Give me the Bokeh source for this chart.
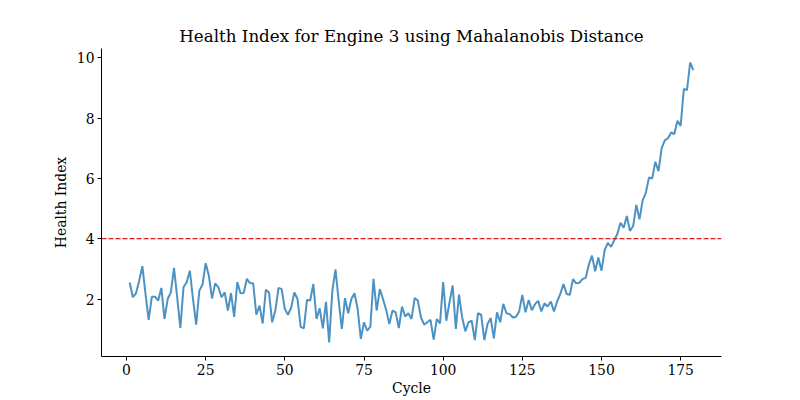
from bokeh.plotting import figure
from bokeh.models import Span, FixedTicker, Range1d
from bokeh.embed import file_html
from bokeh.resources import INLINE

# health index per cycle, engine 3
cycles = list(range(1, 180))
health_index = [
    2.55, 2.06, 2.19, 2.61, 3.09, 2.17, 1.31, 2.08, 2.08, 1.95,
    2.37, 1.34, 2.00, 2.22, 3.03, 2.06, 1.04, 2.39, 2.56, 2.94,
    2.00, 1.15, 2.28, 2.48, 3.19, 2.78, 2.02, 2.52, 2.39, 2.06,
    2.22, 1.62, 2.20, 1.41, 2.56, 2.19, 2.20, 2.67, 2.53, 2.52,
    1.48, 1.78, 1.19, 2.31, 2.22, 1.23, 1.62, 2.37, 2.33, 1.67,
    1.48, 1.72, 2.22, 2.00, 1.08, 1.03, 1.97, 1.95, 2.50, 1.34,
    1.69, 1.03, 1.91, 0.56, 2.28, 2.98, 1.95, 1.01, 2.03, 1.53,
    2.00, 2.19, 1.67, 0.68, 1.23, 0.95, 1.08, 2.67, 1.62, 2.33,
    2.00, 1.64, 1.17, 1.62, 1.56, 1.04, 1.75, 1.42, 1.53, 1.34,
    2.03, 1.95, 1.39, 1.15, 1.23, 1.31, 0.66, 1.34, 1.19, 2.56,
    1.28, 1.89, 2.45, 1.01, 2.15, 1.39, 0.93, 1.23, 1.28, 0.64,
    1.53, 1.48, 0.64, 1.17, 1.37, 0.70, 1.56, 1.23, 1.84, 1.53,
    1.50, 1.39, 1.41, 1.59, 2.14, 1.56, 1.97, 1.63, 1.83, 1.94,
    1.59, 1.86, 1.75, 1.92, 1.59, 1.92, 2.17, 2.50, 2.17, 2.14,
    2.66, 2.52, 2.54, 2.66, 2.70, 3.14, 3.44, 2.92, 3.38, 2.94,
    3.62, 3.86, 3.73, 3.94, 4.16, 4.53, 4.36, 4.75, 4.26, 4.42,
    5.12, 4.64, 5.27, 5.52, 6.03, 5.99, 6.55, 6.24, 7.00, 7.26,
    7.33, 7.52, 7.47, 7.91, 7.74, 8.96, 8.93, 9.84, 9.59,
]
threshold = 4
x_ticks = [0, 25, 50, 75, 100, 125, 150, 175]
y_ticks = [2, 4, 6, 8, 10]

FONT = "DejaVu Serif"

# matplotlib-like 5% margins around the data
xpad = (max(cycles) - min(cycles)) * 0.05
ypad = (max(health_index) - min(health_index)) * 0.05

p = figure(width=800, height=400, output_backend="svg", toolbar_location=None,
           title="Health Index for Engine 3 using Mahalanobis Distance",
           x_range=Range1d(min(cycles) - xpad, max(cycles) + xpad),
           y_range=Range1d(min(health_index) - ypad, max(health_index) + ypad),
           x_axis_label="Cycle", y_axis_label="Health Index",
           min_border_left=101, min_border_right=79,
           min_border_top=48, min_border_bottom=44)

p.line(cycles, health_index, line_color="#1f77b4", line_alpha=0.8, line_width=2)

p.add_layout(Span(location=threshold, dimension="width", line_color="#dd1c1c",
                  line_width=1.3, line_dash="5 2"))

p.title.text_font = FONT
p.title.text_font_size = "16.7px"
p.title.text_font_style = "normal"
p.title.text_color = "black"
p.title.align = "center"
p.title.standoff = 5

p.outline_line_color = None
p.grid.visible = False

p.xaxis.ticker = FixedTicker(ticks=x_ticks)
p.yaxis.ticker = FixedTicker(ticks=y_ticks)

for ax in (p.xaxis, p.yaxis):
    ax.axis_label_text_font = FONT
    ax.axis_label_text_font_size = "13.9px"
    ax.axis_label_text_font_style = "normal"
    ax.major_label_text_font = FONT
    ax.major_label_text_font_size = "13.9px"
    ax.major_tick_out = 4
    ax.major_tick_in = 0
    ax.minor_tick_out = 0
    ax.minor_tick_in = 0
    ax.axis_line_color = "black"
    ax.major_tick_line_color = "black"
    ax.major_label_text_color = "black"
    ax.axis_label_text_color = "black"

p.xaxis.major_label_standoff = 3
p.xaxis.axis_label_standoff = 2
p.yaxis.major_label_standoff = 3
p.yaxis.axis_label_standoff = 5

open("out.html", "w").write(file_html(p, INLINE))
